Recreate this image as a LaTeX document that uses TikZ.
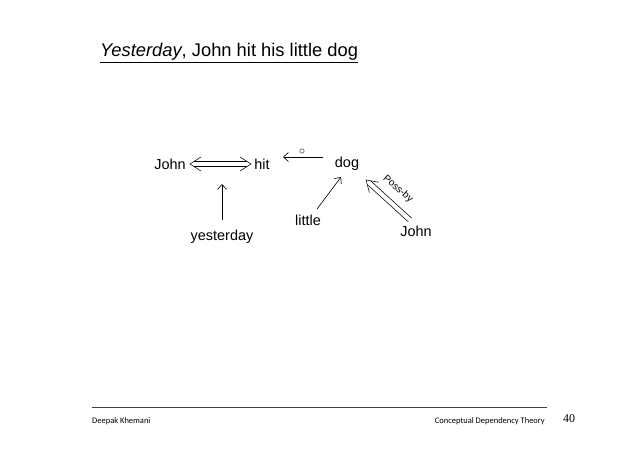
\documentclass[tikz,border=0pt]{standalone}
\usepackage{fontspec}
\setmainfont{Liberation Sans}
\newfontfamily\footfont{Carlito}
\newfontfamily\numfont{Liberation Serif}
\usetikzlibrary{arrows.meta,calc}
\newcommand{\chevhead}[2]{%
  \path ($(#1)!11bp!(#2)$) coordinate (hb);
  \draw[hollow] ($(hb)!7bp!90:(#2)$) -- (#1) -- ($(hb)!7bp!-90:(#2)$);
}
\newcommand{\twinshaft}[2]{%
  \draw[hollow] ($(#1)!2.5bp!90:(#2)$) -- ($(#2)!2.5bp!-90:(#1)$);
  \draw[hollow] ($(#1)!2.5bp!-90:(#2)$) -- ($(#2)!2.5bp!90:(#1)$);
}
\begin{document}
\begin{tikzpicture}[x=1bp,y=-1bp,
  lbl/.style={font=\fontsize{14.5}{16}\selectfont, inner sep=0pt, anchor=base},
  conn/.style={line width=0.6pt, -{Straight Barb[length=5bp,width=9bp]}},
  hollow/.style={line width=0.55pt, line join=miter},
]
\useasboundingbox[fill=white] (0,0) rectangle (638,451);
% title
\node[anchor=base west, inner sep=0pt, font=\fontsize{18.4}{20}\selectfont] (title) at (100,57)
  {\underline{\textit{Yesterday}, John hit his little dog}};
% nodes
\node[lbl] (john) at (170,170) {John};
\node[lbl] (hit) at (262,170) {hit};
\node[lbl] (dog) at (347,168) {dog};
\node[lbl] (little) at (308,226) {little};
\node[lbl] (yest) at (222,241) {yesterday};
\node[lbl] (john2) at (416,237) {John};
% coordinates
\coordinate (a1) at (190,164);
\coordinate (a2) at (251,164);
\coordinate (y1) at (222,220);
\coordinate (y2) at (222,184);
\coordinate (d1) at (323,157);
\coordinate (d2) at (283,157);
\coordinate (l1) at (317,209);
\coordinate (l2) at (341,177);
\coordinate (p1) at (410,220);
\coordinate (p2) at (366,180);
% John <=> hit
\chevhead{a1}{a2}
\chevhead{a2}{a1}
\path ($(a1)!4bp!(a2)$) coordinate (s1) ($(a2)!4bp!(a1)$) coordinate (s2);
\twinshaft{s1}{s2}
% other connectors
\draw[conn] (y1) -- (y2);
\draw[conn] (d1) -- (d2);
\node[inner sep=0pt, font=\fontsize{12}{12}\selectfont] (o) at (302,152) {$\circ$};
\draw[conn] (l1) -- (l2);
% Poss-by
\chevhead{p2}{p1}
\path ($(p2)!4bp!(p1)$) coordinate (s3);
\twinshaft{s3}{p1}
\node[inner sep=0pt, rotate=-41, font=\fontsize{10}{11}\selectfont] (pb) at (398,189) {Poss-by};
% footer
\coordinate (f1) at (92,407);
\coordinate (f2) at (547,407);
\draw[line width=0.7pt, black!75] (f1) -- (f2);
\node[anchor=base west, inner sep=0pt, font=\footfont\fontsize{8.5}{9}\selectfont] (author) at (92,423) {Deepak Khemani};
\node[anchor=base east, inner sep=0pt, font=\footfont\fontsize{8.5}{9}\selectfont] (topic) at (545,423) {Conceptual Dependency Theory};
\node[anchor=base west, inner sep=0pt, font=\numfont\fontsize{12}{13}\selectfont] (num) at (563,422) {40};
\end{tikzpicture}
\end{document}
